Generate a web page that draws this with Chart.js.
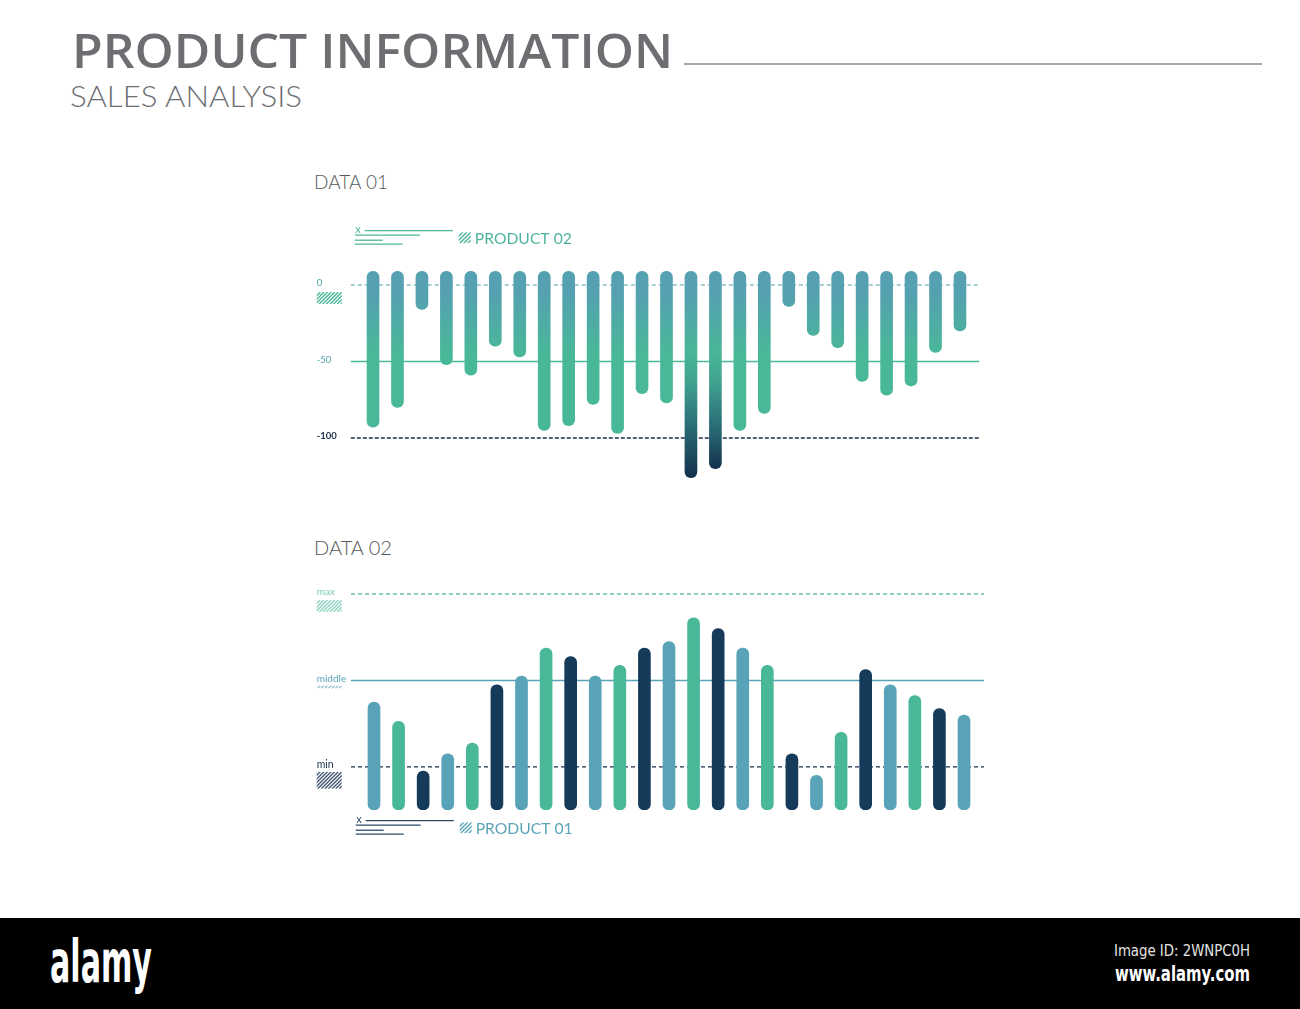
<!DOCTYPE html>
<html>
<head>
<meta charset="utf-8">
<title>Product information - sales analysis</title>
<script src="https://cdn.jsdelivr.net/npm/chart.js@4"></script>
<style>
    html, body { margin: 0; padding: 0; background: #fff; }
    .page { position: relative; width: 1300px; height: 1009px; overflow: hidden; font-family: Lato, "Open Sans", sans-serif; }
    .txt { position: absolute; line-height: 1; white-space: nowrap; transform-origin: 0 0; }
    .title { left: 72px; top: 27px; font: 600 47px "Open Sans", sans-serif; line-height: 1; color: #6d6e71; }
    .rule { position: absolute; left: 684px; top: 63px; width: 578px; height: 1.5px; background: #a7a9ac; }
    .subtitle { left: 70px; top: 81px; font-size: 29px; font-weight: 300; color: #6d6e71; }
    .data-label { left: 314px; font-size: 19.5px; font-weight: 300; color: #58595b; }
    .chart-box { position: absolute; left: 300px; width: 700px; }
    .band { position: absolute; left: 0; top: 918px; width: 1300px; height: 91px; background: #000; }
    .logo { left: 50px; top: 933px; font: bold 58px "Liberation Sans Narrow", "DejaVu Sans Condensed", sans-serif; line-height: 1; color: #fff; }
    .img-id { left: 1114px; top: 943px; font: 16px "Liberation Sans Narrow", "DejaVu Sans Condensed", sans-serif; line-height: 1; color: #e4e4e4; }
    .site { left: 1115px; top: 964px; font: bold 21px "Liberation Sans Narrow", "DejaVu Sans Condensed", sans-serif; line-height: 1; color: #fff; }
</style>
</head>
<body>
<div class="page">
    <div class="txt title" data-w="601">PRODUCT INFORMATION</div>
    <div class="rule"></div>
    <div class="txt subtitle" data-w="232">SALES ANALYSIS</div>

    <div class="txt data-label" style="top:172px" data-w="74">DATA 01</div>
    <div class="chart-box" style="top:215px;height:290px"><canvas id="chartTop"></canvas></div>

    <div class="txt data-label" style="top:538px" data-w="78">DATA 02</div>
    <div class="chart-box" style="top:570px;height:280px"><canvas id="chartBottom"></canvas></div>

    <div class="band"></div>
    <div class="txt logo" data-w="102">alamy</div>
    <div class="txt img-id" data-w="136">Image ID: 2WNPC0H</div>
    <div class="txt site" data-w="135">www.alamy.com</div>
</div>

<script>
    // categories (25 bars in both panels)
    const categories = ['01','02','03','04','05','06','07','08','09','10','11','12','13',
                        '14','15','16','17','18','19','20','21','22','23','24','25'];

    // DATA 01 / PRODUCT 02 : bars hang from a common top value down to the value
    const product02Top = 9;
    const product02Values = [-93, -80, -16, -52, -59, -40, -47, -95, -92, -78, -97, -71, -77,
                             -126, -120, -95, -84, -14, -33, -41, -63, -72, -66, -44, -30];
    const topRefValues = [0, -50, -100];
    const topRefLabels = ['0', '-50', '-100'];

    // DATA 02 / PRODUCT 01
    const product01Values = [50, 41, 18, 26, 31, 58, 62, 75, 71, 62, 67, 75, 78,
                             89, 84, 75, 67, 26, 16, 36, 65, 58, 53, 47, 44];
    const bottomRefValues = [100, 60, 20];
    const bottomRefLabels = ['max', 'middle', 'min'];

    // styles
    const TEAL = '#55a0b1', GREEN = '#49b898', NAVY = '#153a5a', BLUE = '#58a3b7';
    const topRefStyle = [
        { color: '#4f9fae', width: 1.2, dash: [4, 3], labelColor: '#4aa7a0', font: '9.5px Lato, sans-serif', hatch: [7, 12], hatchColor: '#4cb89a' },
        { color: '#4cb89a', width: 1.3, dash: [], labelColor: '#4fa7b0', font: '9.5px Lato, sans-serif' },
        { color: '#1d2f48', width: 1.3, dash: [4, 2], labelColor: '#1b2e47', font: 'bold 9.5px Lato, sans-serif' }
    ];
    const bottomRefStyle = [
        { color: '#6cc4ae', width: 1.3, dash: [4, 3], labelColor: '#7ccbb6', font: '10px Lato, sans-serif', hatch: [6, 12], hatchColor: '#8fd3c1' },
        { color: '#5aa3b8', width: 1.5, dash: [], labelColor: '#5aa3b8', font: '10px Lato, sans-serif', hatch: [5, 3], hatchColor: '#9cc6d0' },
        { color: '#1d2f48', width: 1.3, dash: [4, 3], labelColor: '#1d3550', font: '10.5px Lato, sans-serif', hatch: [5, 17], hatchColor: '#4a5d75' }
    ];
    const bottomCycle = [BLUE, GREEN, NAVY];

    function hatch(ctx, x, y, w, h, color, gap) {
        ctx.save();
        ctx.beginPath();
        ctx.rect(x, y, w, h);
        ctx.clip();
        ctx.strokeStyle = color;
        ctx.lineWidth = 1.4;
        ctx.setLineDash([]);
        for (let i = -h; i < w + h; i += gap) {
            ctx.beginPath();
            ctx.moveTo(x + i, y + h);
            ctx.lineTo(x + i + h, y);
            ctx.stroke();
        }
        ctx.restore();
    }

    // legend mark: the little "x" with lines, hatch icon and product name
    function drawLegendMark(ctx, x, y, lineColor, textColor, text) {
        ctx.save();
        ctx.strokeStyle = lineColor;
        ctx.fillStyle = lineColor;
        ctx.lineWidth = 1.3;
        ctx.font = '11px Lato, sans-serif';
        ctx.textBaseline = 'middle';
        ctx.fillText('x', x + 0.5, y - 1);
        [[10, 98, 0], [0, 65, 4.5], [0, 28, 9.5], [0, 48, 13.5]].forEach(l => {
            ctx.beginPath();
            ctx.moveTo(x + l[0], y + l[2]);
            ctx.lineTo(x + l[1], y + l[2]);
            ctx.stroke();
        });
        hatch(ctx, x + 104, y + 1.5, 12, 11, textColor, 4);
        ctx.fillStyle = textColor;
        ctx.font = '15.5px Lato, sans-serif';
        ctx.textBaseline = 'alphabetic';
        const w = ctx.measureText(text).width;
        ctx.translate(x + 120, y + 13);
        ctx.scale(97 / w, 1);
        ctx.fillText(text, 0, 0);
        ctx.restore();
    }

    const decor = {
        id: 'decor',
        beforeDatasetsDraw(chart, args, opts) {
            const { ctx, chartArea: a, scales: { y } } = chart;
            ctx.save();
            opts.values.forEach((v, i) => {
                const s = opts.styles[i];
                const py = y.getPixelForValue(v);
                ctx.strokeStyle = s.color;
                ctx.lineWidth = s.width;
                ctx.setLineDash(s.dash);
                ctx.beginPath();
                ctx.moveTo(a.left + opts.lineFrom, py);
                ctx.lineTo(a.right + opts.lineTo, py);
                ctx.stroke();
                ctx.setLineDash([]);
                ctx.fillStyle = s.labelColor;
                ctx.font = s.font;
                ctx.textBaseline = 'middle';
                ctx.fillText(opts.labels[i], a.left + opts.labelX, py - 2);
                if (s.hatch) hatch(ctx, a.left + opts.labelX, py + s.hatch[0], 25, s.hatch[1], s.hatchColor, 3.6);
            });
            const ly = opts.legend.from === 'top' ? a.top + opts.legend.dy : a.bottom + opts.legend.dy;
            drawLegendMark(ctx, a.left + opts.legend.dx, ly, opts.legend.lineColor, opts.legend.textColor,
                           chart.data.datasets[0].label);
            ctx.restore();
        }
    };

    function topBarFill(context) {
        const chart = context.chart;
        if (!chart.chartArea) return TEAL;
        const y = chart.scales.y;
        const v = context.raw ? context.raw[1] : 0;
        const y0 = y.getPixelForValue(product02Top);
        if (v > -100) {
            const g = chart.ctx.createLinearGradient(0, y0, 0, y.getPixelForValue(-45));
            g.addColorStop(0, TEAL);
            g.addColorStop(0.25, TEAL);
            g.addColorStop(1, GREEN);
            return g;
        }
        const y1 = y.getPixelForValue(v);
        const f = val => (y.getPixelForValue(val) - y0) / (y1 - y0);
        const g = chart.ctx.createLinearGradient(0, y0, 0, y1);
        g.addColorStop(0, TEAL);
        g.addColorStop(f(-5), TEAL);
        g.addColorStop(f(-45), '#49b697');
        g.addColorStop(f(-65), '#3fa08e');
        g.addColorStop(f(-85), '#2f7a7e');
        g.addColorStop(f(-100), '#245e6c');
        g.addColorStop(1, '#13304c');
        return g;
    }

    const commonOptions = {
        responsive: true,
        maintainAspectRatio: false,
        animation: false,
        plugins: { legend: { display: false }, tooltip: { enabled: false } }
    };

    new Chart(document.getElementById('chartTop'), {
        type: 'bar',
        data: {
            labels: categories,
            datasets: [{
                label: 'PRODUCT 02',
                data: product02Values.map(v => [product02Top, v]),
                backgroundColor: topBarFill,
                barThickness: 12,
                borderRadius: 6,
                borderSkipped: false
            }]
        },
        options: {
            ...commonOptions,
            layout: { padding: { left: 60.8, right: 27.8, top: 39.4, bottom: 5.8 } },
            scales: {
                x: { display: false },
                y: { display: false, min: -140, max: 20 }
            },
            plugins: {
                ...commonOptions.plugins,
                decor: {
                    values: topRefValues, labels: topRefLabels, styles: topRefStyle,
                    lineFrom: -10, lineTo: 7, labelX: -44,
                    legend: { from: 'top', dx: -6, dy: -23.7, lineColor: '#4db89b', textColor: '#4db39c' }
                }
            }
        },
        plugins: [decor]
    });

    new Chart(document.getElementById('chartBottom'), {
        type: 'bar',
        data: {
            labels: categories,
            datasets: [{
                label: 'PRODUCT 01',
                data: product01Values,
                backgroundColor: product01Values.map((v, i) => bottomCycle[i % 3]),
                barThickness: 12,
                borderRadius: 6,
                borderSkipped: false
            }]
        },
        options: {
            ...commonOptions,
            layout: { padding: { left: 61.7, right: 23.7, top: 24, bottom: 40 } },
            scales: {
                x: { display: false },
                y: { display: false, min: 0, max: 100 }
            },
            plugins: {
                ...commonOptions.plugins,
                decor: {
                    values: bottomRefValues, labels: bottomRefLabels, styles: bottomRefStyle,
                    lineFrom: -10.7, lineTo: 7.7, labelX: -45,
                    legend: { from: 'bottom', dx: -6, dy: 10.7, lineColor: '#2d4a68', textColor: '#5aa3b8' }
                }
            }
        },
        plugins: [decor]
    });

    // squeeze / stretch the heading texts to the widths seen in the picture
    document.querySelectorAll('[data-w]').forEach(el => {
        const w = el.getBoundingClientRect().width;
        el.style.transform = 'scaleX(' + (parseFloat(el.dataset.w) / w) + ')';
    });
</script>
</body>
</html>
